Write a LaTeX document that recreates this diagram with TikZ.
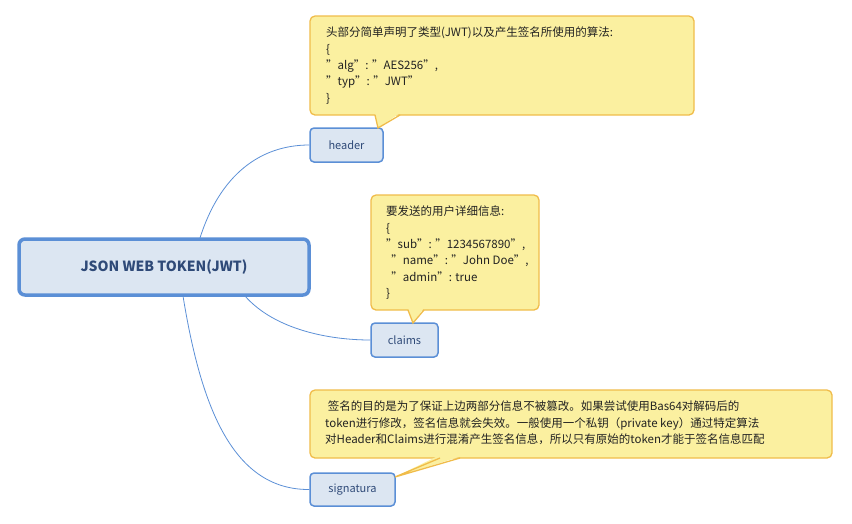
\documentclass[tikz,border=0pt]{standalone}
\usepackage{fontspec}
\setmainfont{Noto Sans CJK SC}
\definecolor{bfill}{HTML}{DCE6F2}
\definecolor{bdraw}{HTML}{5B8FD6}
\definecolor{btext}{HTML}{2F4A78}
\definecolor{cfill}{HTML}{FBF0A0}
\definecolor{cdraw}{HTML}{F0BC4A}
\definecolor{ltext}{HTML}{222222}
\tikzset{
 topic/.style={draw=bdraw,fill=bfill,rounded corners=4pt,line width=1.5pt,text=btext,font=\fontsize{11}{13}\selectfont,inner sep=0pt},
 callout/.style={draw=cdraw,fill=cfill,rounded corners=5pt,line width=1.3pt},
 ctext/.style={anchor=north west,align=left,font=\fontsize{11.5}{16.3}\selectfont,text=ltext,inner sep=0pt},
 link/.style={draw=bdraw,line width=0.8pt}
}
\begin{document}
\begin{tikzpicture}[x=1pt,y=-1pt]
\useasboundingbox (0,0) rectangle (852,523);
\node[topic,minimum width=73pt,minimum height=34pt] (header) at (346.5,145) {header};
\node[topic,minimum width=67pt,minimum height=34pt] (claims) at (404.5,340) {claims};
\node[topic,minimum width=85pt,minimum height=33pt] (sig) at (352.5,489.5) {signatura};
\coordinate (m1) at (200,238);
\coordinate (m2) at (245,296);
\coordinate (m3) at (183,296);
\draw[link] (m1) .. controls (220,175) and (260,145) .. (header.west);
\draw[link] (m2) .. controls (275,330) and (330,340) .. (claims.west);
\draw[link] (m3) .. controls (200,400) and (230,490) .. (sig.west);
\node[draw=bdraw,fill=bfill,rounded corners=6pt,line width=3.5pt,minimum width=290pt,minimum height=56pt,text=btext,font=\bfseries\fontsize{14}{16}\selectfont] (main) at (164,267) {JSON WEB TOKEN(JWT)};
% callout 1
\draw[callout] (310,16) rectangle (694,115);
\fill[cfill] (375,113) -- (378,128) -- (400,113) -- cycle;
\draw[cdraw,line width=1.3pt] (375,115) -- (378,128) -- (400,115);
\node[ctext] (t1) at (326,27) {头部分简单声明了类型(JWT)以及产生签名所使用的算法:\\\{\\"alg": "AES256",\\"typ": "JWT"\\\}};
% callout 2
\draw[callout] (371,195) rectangle (539,310);
\fill[cfill] (408,308) -- (413,323) -- (424,308) -- cycle;
\draw[cdraw,line width=1.3pt] (408,310) -- (413,323) -- (424,310);
\node[ctext] (t2) at (386,206) {要发送的用户详细信息:\\\{\\"sub": "1234567890",\\\ \ "name": "John Doe",\\\ \ "admin": true\\\}};
% callout 3
\draw[callout] (310,390) rectangle (832,458);
\fill[cfill] (438,456) -- (395,477) -- (462,456) -- cycle;
\draw[cdraw,line width=1.3pt] (440,458) -- (395,477) -- (460,458);
\node[ctext] (t3) at (325,401) {\ 签名的目的是为了保证上边两部分信息不被篡改。如果尝试使用Bas64对解码后的\\token进行修改，签名信息就会失效。一般使用一个私钥（private key）通过特定算法\\对Header和Claims进行混淆产生签名信息，所以只有原始的token才能于签名信息匹配};
\end{tikzpicture}
\end{document}
